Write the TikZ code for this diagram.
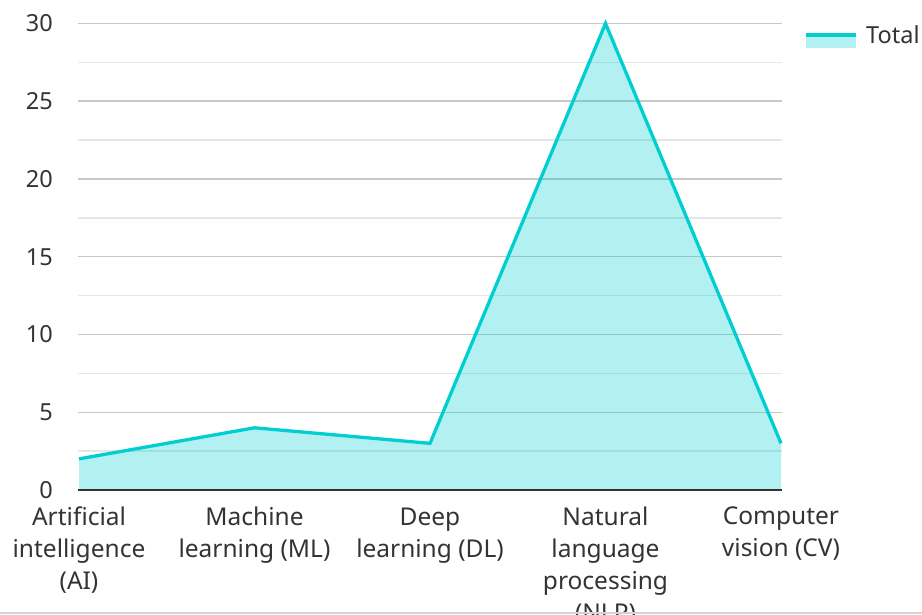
\documentclass[tikz,border=0pt]{standalone}
\usepackage{fontspec}
\setmainfont{Noto Sans}
\usetikzlibrary{positioning}
\definecolor{turq}{HTML}{00CED1}
\definecolor{txtgray}{HTML}{333333}
\definecolor{gridmajor}{HTML}{C8C8C8}
\definecolor{gridminor}{HTML}{E6E6E6}
\definecolor{framegray}{HTML}{D4D4D4}

\begin{document}
\begin{tikzpicture}[x=1pt, y=-1pt,
    lbl/.style={font=\fontsize{23.5}{32}\selectfont, text=txtgray, inner sep=0pt},
    catlabel/.style={lbl, font=\fontsize{24.5}{32}\selectfont, align=center, anchor=north},
    ylabel/.style={lbl, anchor=east},
    major/.style={draw=gridmajor, line width=1.5pt},
    minor/.style={draw=gridminor, line width=1.5pt},
    series/.style={draw=turq, line width=3.3pt},
    area/.style={fill=turq, fill opacity=0.3}
]

\clip (0,0) rectangle (922,615);

% Grid
\foreach \v in {2.5,7.5,...,27.5} {
    \draw[minor] (78,{490-\v*15.55}) -- (782,{490-\v*15.55});
}
\foreach \v in {5,10,...,30} {
    \draw[major] (78,{490-\v*15.55}) -- (782,{490-\v*15.55});
}

% Y axis labels
\foreach \v in {0,5,...,30} {
    \node[ylabel] (y\v) at (53,{490-\v*15.55}) {\v};
}

% Data points
\coordinate (ai) at (79,{490-2*15.55});
\coordinate (ml) at (254.5,{490-4*15.55});
\coordinate (dl) at (430,{490-3*15.55});
\coordinate (nlp) at (605.5,{490-30*15.55});
\coordinate (cv) at (781,{490-3*15.55});
\coordinate (o) at (79,490);
\coordinate (e) at (781,490);

% Area and line
\fill[area] (o) -- (ai) -- (ml) -- (dl) -- (nlp) -- (cv) -- (e) -- cycle;
\draw[series] (ai) -- (ml) -- (dl) -- (nlp) -- (cv);

% Axis
\coordinate (axl) at (78,490);
\coordinate (axr) at (782,490);
\draw[txtgray, line width=2pt] (axl) -- (axr);

% Category labels
\node[catlabel] (lai) at (79,506.5) {Artificial\\intelligence\\(AI)};
\node[catlabel] (lml) at (254.5,506.5) {Machine\\learning (ML)};
\node[catlabel] (ldl) at (430,507.5) {Deep\\learning (DL)};
\node[catlabel] (lnlp) at (605.5,506.5) {Natural\\language\\processing\\(NLP)};
\node[catlabel] (lcv) at (781,507) {Computer\\vision (CV)};

% Legend
\coordinate (lgl) at (806,35);
\coordinate (lgr) at (856,35);
\fill[area] (806,36.5) rectangle (856,48);
\draw[series] (lgl) -- (lgr);
\node[lbl, anchor=west] (ltotal) at (866,35) {Total};

% Bottom border
\coordinate (bl) at (0,613);
\coordinate (br) at (922,613);
\draw[framegray, line width=2pt] (bl) -- (br);

\end{tikzpicture}
\end{document}
